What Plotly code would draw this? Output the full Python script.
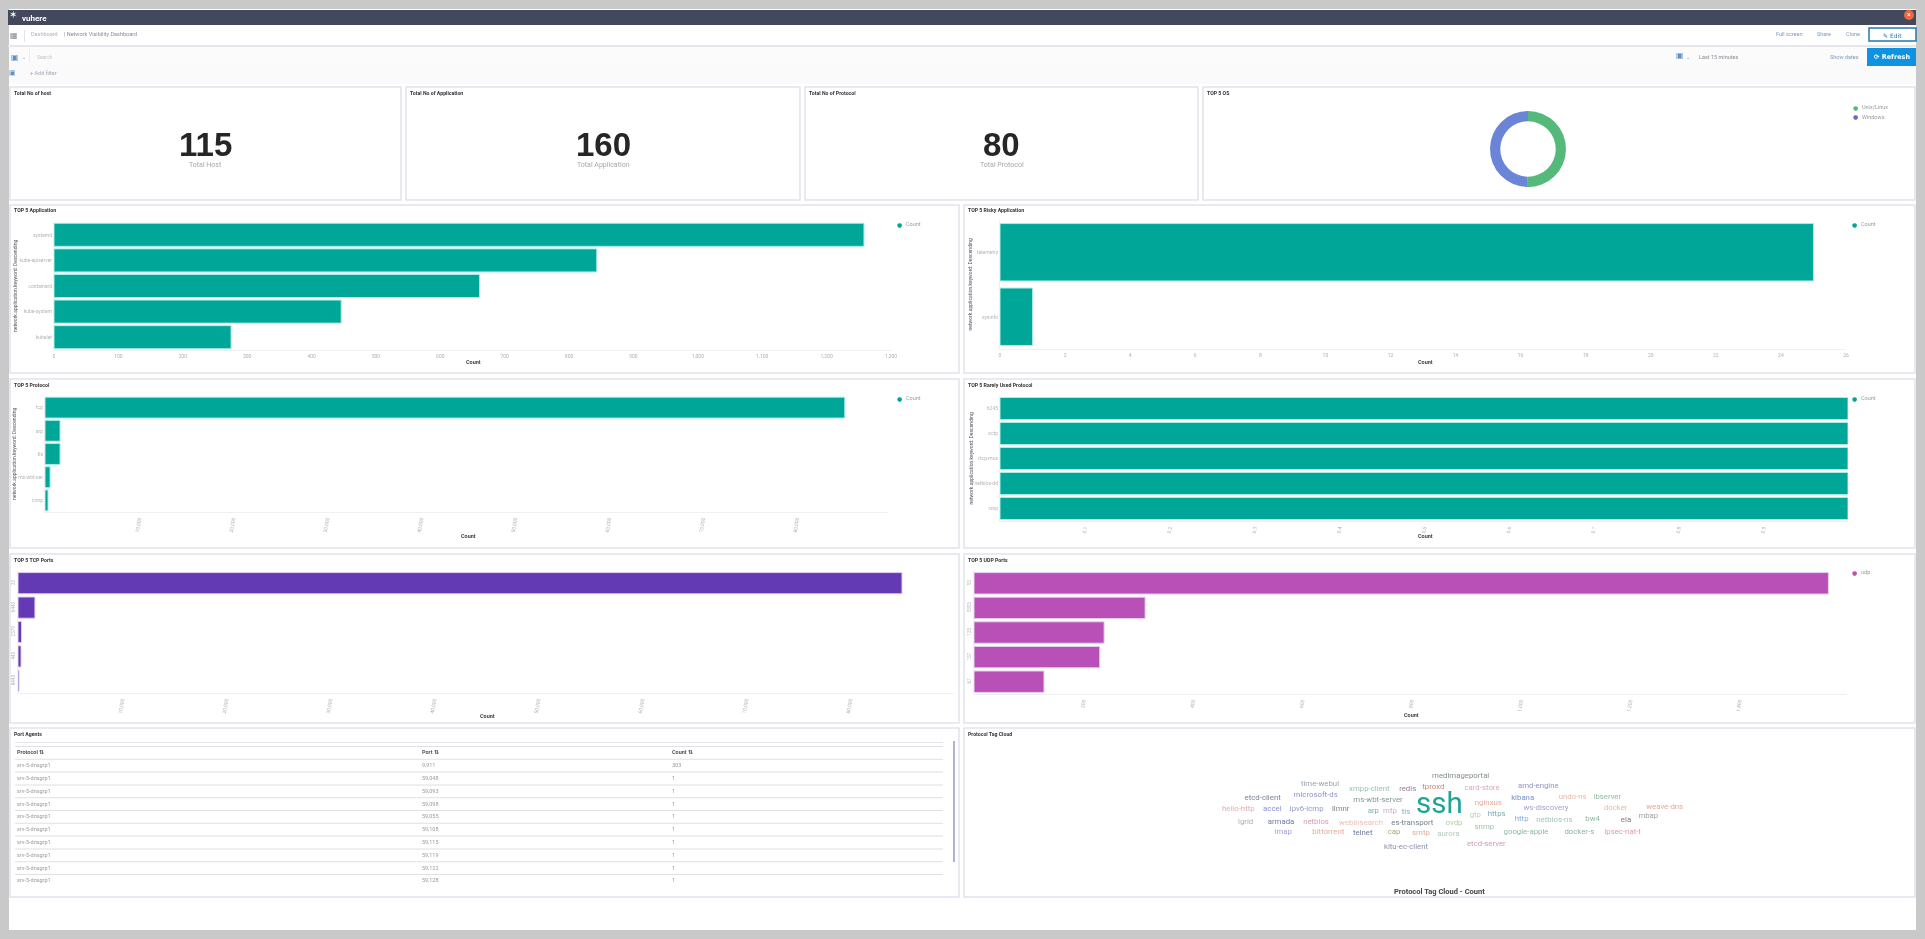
import plotly.graph_objects as go

W = 1925
H = 939

TEAL = "#00a698"
PURPLE = "#6439b4"
MAGENTA = "#b950b8"
FONT = "Roboto"

######################################################################################
# values

app_names = ["systemd", "kube-apiserver", "containerd", "kube-system", "kubelet"]
app_counts = [1258, 843, 661, 446, 275]
app_ticks = [0, 100, 200, 300, 400, 500, 600, 700, 800, 900, 1000, 1100, 1200, 1300]

risky_names = ["telemetry", "sysinfo"]
risky_counts = [25, 1]
risky_ticks = [0, 2, 4, 6, 8, 10, 12, 14, 16, 18, 20, 22, 24, 26]

proto_names = ["tcp", "arp", "tls", "ms-wbt-ser", "icmp"]
proto_counts = [85100, 1600, 1600, 540, 320]
proto_ticks = [10000, 20000, 30000, 40000, 50000, 60000, 70000, 80000]

rare_names = ["h245", "sctp", "rtcp-mux", "netbios-dd", "rsvp"]
rare_counts = [1, 1, 1, 1, 1]
rare_ticks = [0.1, 0.2, 0.3, 0.4, 0.5, 0.6, 0.7, 0.8, 0.9]

tcp_ports = ["22", "6443", "2379", "443", "8443"]
tcp_counts = [85000, 1630, 340, 290, 100]
tcp_ticks = [10000, 20000, 30000, 40000, 50000, 60000, 70000, 80000]

udp_ports = ["53", "5353", "123", "137", "67"]
udp_counts = [1563, 313, 238, 230, 128]
udp_ticks = [200, 400, 600, 800, 1000, 1200, 1400]

os_names = ["Unix/Linux", "Windows"]
os_counts = [58, 57]

stat_values = ["115", "160", "80"]
stat_labels = ["Total Host", "Total Application", "Total Protocol"]
stat_titles = ["Total No of host", "Total No of Application", "Total No of Protocol"]

table_headers = ["Protocol ⇅", "Port ⇅", "Count ⇅"]
table_protocol = ["srv-5-dnsgrp1"] * 10
table_port = ["9,911", "59,048", "59,093", "59,098", "59,055", "59,108", "59,115", "59,119", "59,122", "59,128"]
table_count = ["303", "1", "1", "1", "1", "1", "1", "1", "1", "1"]

cloud_words = ["ssh", "medimageportal", "time-webui", "xmpp-client", "redis", "tproxd", "card-store",
	"amd-engine", "etcd-client", "microsoft-ds", "ms-wbt-server", "kibana", "undo-ns", "ibserver",
	"nginxus", "hello-http", "accel", "ipv6-icmp", "llmnr", "arp", "mtp", "tls", "gtp", "https",
	"ws-discovery", "docker", "weave-dns", "lgrid", "armada", "netbios", "webinsearch", "es-transport",
	"ovdp", "http", "netbios-ns", "bw4", "ela", "mbap", "imap", "bittorrent", "telnet", "cap", "smtp",
	"aurora", "snmp", "google-apple", "docker-s", "ipsec-nat-t", "kitu-ec-client", "etcd-server"]

# where each word sits in the cloud and how it is drawn
cloud_x = [748, 812, 390, 538, 653, 730, 876, 1045, 218, 377, 564, 998, 1148, 1252, 895, 145, 247, 350,
	452, 550, 600, 648, 856, 920, 1068, 1277, 1424, 167, 273, 378, 513, 667, 792, 995, 1093, 1208, 1308,
	1375, 280, 415, 518, 612, 693, 775, 883, 1008, 1168, 1298, 648, 889]
cloud_y = [166, 79, 103, 118, 118, 110, 115, 107, 143, 135, 151, 143, 142, 140, 159, 178, 176, 176, 178,
	183, 183, 185, 195, 191, 175, 175, 170, 215, 215, 215, 219, 219, 219, 206, 210, 207, 211, 199, 247,
	247, 250, 247, 250, 252, 231, 247, 247, 247, 290, 283]
cloud_sizes = [29.5] + [7.8] * 49
cloud_colors = ["#1fa596", "#858e8b", "#9aa5b3", "#9cc2b3", "#967d9b", "#cf8578", "#dca6bf", "#9193c6",
	"#7c8296", "#8f93d3", "#7f9c95", "#7a90c6", "#e4baa8", "#93baa2", "#e6ab99", "#e6abab", "#8c90d3",
	"#8c9bc9", "#80858b", "#79b2aa", "#cfabc9", "#8cabc9", "#bbd6b3", "#7fabb3", "#ab9cc9", "#e4baa8",
	"#e6ab99", "#abafb2", "#6f79a3", "#d69cb2", "#ebc1b3", "#767f88", "#b3cfab", "#8cabdd", "#9cc9b3",
	"#8eba9d", "#807688", "#9ca3aa", "#ab9cd0", "#e4ab9c", "#6f7996", "#abab80", "#e4ab9c", "#b3cfba",
	"#9cc2ab", "#8ebaa3", "#8eb39c", "#dd9cb3", "#8e95ab", "#cf9cba"]

######################################################################################

def fx(x):
	return x / W

def fy(y):
	return 1 - y / H

shapes = []
notes = []

def box(x0, y0, x1, y1, fill=None, line=None, width=1, kind="rect", layer="below"):
	shapes.append(dict(type=kind, xref="paper", yref="paper", x0=fx(x0), x1=fx(x1), y0=fy(y0), y1=fy(y1),
		fillcolor=fill or "rgba(0,0,0,0)", line=dict(color=line or "rgba(0,0,0,0)", width=width if line else 0), layer=layer))

def note(x, y, text, size=6, color="#8d8d8d", bold=False, anchor="left", angle=0, family=FONT):
	if bold:
		text = "<b>%s</b>" % text
	notes.append(dict(xref="paper", yref="paper", x=fx(x), y=fy(y), text=text, showarrow=False, xanchor=anchor,
		yanchor="middle", textangle=angle, font=dict(size=size, color=color, family=family)))

def panel(x0, y0, x1, y1, title):
	box(x0, y0, x1, y1, fill="#ffffff", line="#e2e2ee", width=1.5)
	note(x0 + 2, y0 + 5.5, title, size=5.2, color="#333333", bold=True)

fig = go.Figure()

# page, header and toolbars
box(9, 9, 1916, 930, fill="#ffffff")
box(8, 10, 1916, 25, fill="#44485c")
box(8, 45, 1916, 47, fill="#e6e6ec")
box(9, 47, 1916, 64, fill="#fbfbfc")
box(9, 64, 1916, 84, fill="#fafafb")
note(20, 18, "vuhere", size=8, color="#ffffff", bold=True)
note(13, 15, "✶", size=10, color="#ffffff", family="DejaVu Sans", anchor="center")
box(1904, 10, 1914, 20, fill="#f0673f", kind="circle", layer="above")
note(1909, 15, "×", size=7, color="#ffffff", anchor="center")
note(14, 35, "▦", size=8, color="#7d7d8a", family="DejaVu Sans", anchor="center")
box(24.5, 30, 25, 42, fill="#c8c8d0")
note(29, 34, "Dashboard", size=5.5, color="#b0b0b8")
note(62, 34, "| Network Visibility Dashboard", size=5.5, color="#8c8c96")
note(1789, 34, "Full screen", size=5.5, color="#7d9cbc", anchor="center")
note(1824, 34, "Share", size=5.5, color="#7d9cbc", anchor="center")
note(1853, 34, "Clone", size=5.5, color="#7d9cbc", anchor="center")
box(1869, 28, 1916, 41, fill="#ffffff", line="#2477ab", width=1.5, layer="above")
note(1892, 35, "✎ Edit", size=6, color="#2477ab", anchor="center", family="DejaVu Sans")
note(15, 57, "▣", size=8, color="#5f8fc0", family="DejaVu Sans", anchor="center")
note(24, 57, "⌄", size=5, color="#5f8fc0", family="DejaVu Sans", anchor="center")
box(29, 49, 29.5, 63, fill="#e0e0e6")
note(35, 57, "Search", size=5, color="#c4c4c8")
note(1680, 56, "▣", size=8, color="#5f8fc0", family="DejaVu Sans", anchor="center")
note(1688, 57, "⌄", size=5, color="#5f8fc0", family="DejaVu Sans", anchor="center")
note(1697, 57, "Last 15 minutes", size=5.5, color="#8c8c96")
note(1844, 57, "Show dates", size=5.5, color="#7d9cbc", anchor="center")
box(1867, 48, 1916, 66, fill="#0f93e0", layer="above")
note(1892, 57, "⟳ Refresh", size=6.5, color="#ffffff", bold=True, anchor="center", family="DejaVu Sans")
note(12, 73, "▣", size=7, color="#5f8fc0", family="DejaVu Sans", anchor="center")
note(28, 73, "+ Add filter", size=5.5, color="#a0a8b4")

# stat tiles
stat_boxes = [(10, 401), (406, 800), (805, 1198)]
for (x0, x1), title, value, label in zip(stat_boxes, stat_titles, stat_values, stat_labels):
	panel(x0, 87, x1, 200, title)
	note((x0 + x1) / 2, 144, value, size=33, color="#262626", bold=True, anchor="center", family="Liberation Sans")
	note((x0 + x1) / 2, 165, label, size=7, color="#a8a8a8", anchor="center")

# OS donut
panel(1203, 87, 1915, 200, "TOP 5 OS")
fig.add_trace(go.Pie(labels=os_names, values=os_counts, hole=0.73, sort=False, direction="clockwise",
	textinfo="none", showlegend=False, marker=dict(colors=["#54b97a", "#6a85d8"]),
	domain=dict(x=[fx(1490), fx(1566)], y=[fy(187), fy(111)])))
note(1855, 107, "●", size=6, color="#54b97a", anchor="center", family="DejaVu Sans")
note(1860, 107, os_names[0], size=5.5, color="#9a9a9a")
note(1855, 117, "●", size=6, color="#6a65c8", anchor="center", family="DejaVu Sans")
note(1860, 117, os_names[1], size=5.5, color="#9a9a9a")

######################################################################################
# bar panels

Y_TITLE = "network.application.keyword: Descending"

charts = [
	dict(title="TOP 5 Application", names=app_names, values=app_counts, ticks=app_ticks, color=TEAL,
		box=(10, 205, 959, 373), x=(54, 891), y=(222, 350), xmax=1300, angle=0, title_x=473, title_y=362,
		legend=(899, 224, "Count"), gap=0.1, ytitle=15, yangle=0),
	dict(title="TOP 5 Risky Application", names=risky_names, values=risky_counts, ticks=risky_ticks, color=TEAL,
		box=(964, 205, 1915, 373), x=(1000, 1846), y=(220, 349), xmax=26, angle=0, title_x=1425, title_y=362,
		legend=(1854, 224, "Count"), gap=0.11, ytitle=970, yangle=0),
	dict(title="TOP 5 Protocol", names=proto_names, values=proto_counts, ticks=proto_ticks, color=TEAL,
		box=(10, 379, 959, 548), x=(45, 888), y=(396, 512), xmax=89700, angle=-80, title_x=468, title_y=536,
		legend=(899, 398, "Count"), gap=0.1, ytitle=14, yangle=0),
	dict(title="TOP 5 Rarely Used Protocol", names=rare_names, values=rare_counts, ticks=rare_ticks, color=TEAL,
		box=(964, 379, 1915, 548), x=(1000, 1848), y=(396, 521), xmax=1, angle=-80, title_x=1425, title_y=536,
		legend=(1854, 398, "Count"), gap=0.12, ytitle=970, yangle=0),
	dict(title="TOP 5 TCP Ports", names=tcp_ports, values=tcp_counts, ticks=tcp_ticks, color=PURPLE,
		box=(10, 554, 959, 723), x=(18, 954), y=(571, 693), xmax=90000, angle=-80, title_x=487, title_y=716,
		legend=None, gap=0.13, ytitle=None, yangle=-90),
	dict(title="TOP 5 UDP Ports", names=udp_ports, values=udp_counts, ticks=udp_ticks, color=MAGENTA,
		box=(964, 554, 1915, 723), x=(974, 1847), y=(571, 694), xmax=1597, angle=-80, title_x=1411, title_y=715,
		legend=(1854, 572, "udp"), gap=0.13, ytitle=None, yangle=-90),
]

axes = {}
for i, c in enumerate(charts):
	n = i + 2
	panel(*c["box"], c["title"])
	fig.add_trace(go.Bar(x=c["values"], y=c["names"], orientation="h", showlegend=False, width=1 - c["gap"],
		marker=dict(color=c["color"], line=dict(color="#a8ece6" if c["color"] == TEAL else "#e0d0ee", width=1)),
		xaxis="x%d" % n, yaxis="y%d" % n))
	axes["xaxis%d" % n] = dict(domain=[fx(c["x"][0]), fx(c["x"][1])], anchor="y%d" % n, range=[0, c["xmax"]],
		tickmode="array", tickvals=c["ticks"], tickformat=",", tickangle=c["angle"], ticks="", showgrid=False,
		zeroline=False, showline=True, linecolor="#f0f0f0", tickfont=dict(size=5, color="#b0b0b0", family=FONT),
		automargin=False, ticklabelstandoff=1)
	axes["yaxis%d" % n] = dict(domain=[fy(c["y"][1]), fy(c["y"][0])], anchor="x%d" % n, autorange="reversed",
		type="category", ticks="", showgrid=False, showline=True, linecolor="#f0f0f0", tickangle=c["yangle"],
		tickfont=dict(size=4.5 if c["yangle"] else 5, color="#b4b4b4", family=FONT), automargin=False)
	note(c["title_x"], c["title_y"], "Count", size=5.5, color="#444444", bold=True, anchor="center")
	if c["ytitle"]:
		note(c["ytitle"], (c["y"][0] + c["y"][1]) / 2, Y_TITLE, size=5, color="#555555", anchor="center", angle=-90)
	if c["legend"]:
		lx, ly, ltext = c["legend"]
		note(lx, ly, "●", size=6, color=c["color"], anchor="center", family="DejaVu Sans")
		note(lx + 5, ly, ltext, size=5.5, color="#9a9a9a")

######################################################################################
# table and word cloud, on a page sized axis pair

panel(10, 728, 959, 897, "Port Agents")
panel(964, 728, 1915, 897, "Protocol Tag Cloud")

rule_top = 746
rule_step = 12.8
col_x = [17, 422, 672]
text_y = [rule_top + 7 + rule_step * i for i in range(11)]
columns = [table_protocol, table_port, table_count]

for k in range(11):
	box(15, rule_top + rule_step * k, 943, rule_top + rule_step * k + 1, fill="#dfe0e4")
box(15, 742, 943, 743, fill="#e6e6ec")
box(953, 741, 955, 862, fill="#b0b3cf", layer="above")

for x, header, col in zip(col_x, table_headers, columns):
	fig.add_trace(go.Scatter(x=[x] * 11, y=text_y, mode="text", text=["<b>%s</b>" % header] + col,
		textposition="middle right", showlegend=False, hoverinfo="skip", cliponaxis=False,
		textfont=dict(size=5.5, color=["#555555"] + ["#9a9a9a"] * 10, family=FONT),
		xaxis="x8", yaxis="y8"))

fig.add_trace(go.Scatter(x=[1190 + v / 3 for v in cloud_x], y=[750 + v / 3 for v in cloud_y], mode="text",
	text=cloud_words, textposition="middle center", showlegend=False, hoverinfo="skip",
	textfont=dict(size=cloud_sizes, color=cloud_colors, family=FONT), xaxis="x8", yaxis="y8"))
note(1439, 891, "Protocol Tag Cloud - Count", size=7.5, color="#444444", bold=True, anchor="center")

axes["xaxis8"] = dict(domain=[0, 1], range=[0, W], visible=False, anchor="y8")
axes["yaxis8"] = dict(domain=[0, 1], range=[H, 0], visible=False, anchor="x8")

fig.update_layout(width=W, height=H, margin=dict(l=0, r=0, t=0, b=0), paper_bgcolor="#c8c9c8",
	plot_bgcolor="rgba(0,0,0,0)", font=dict(family=FONT), bargap=0.1, shapes=shapes, annotations=notes, **axes)

# the source is a soft, scaled down screenshot
fig.write_html("out.html", config={"displayModeBar": False},
	post_script="document.body.style.margin='0';document.body.style.overflow='hidden';"
	"document.querySelector('.plotly-graph-div').style.filter='blur(0.5px)';")
